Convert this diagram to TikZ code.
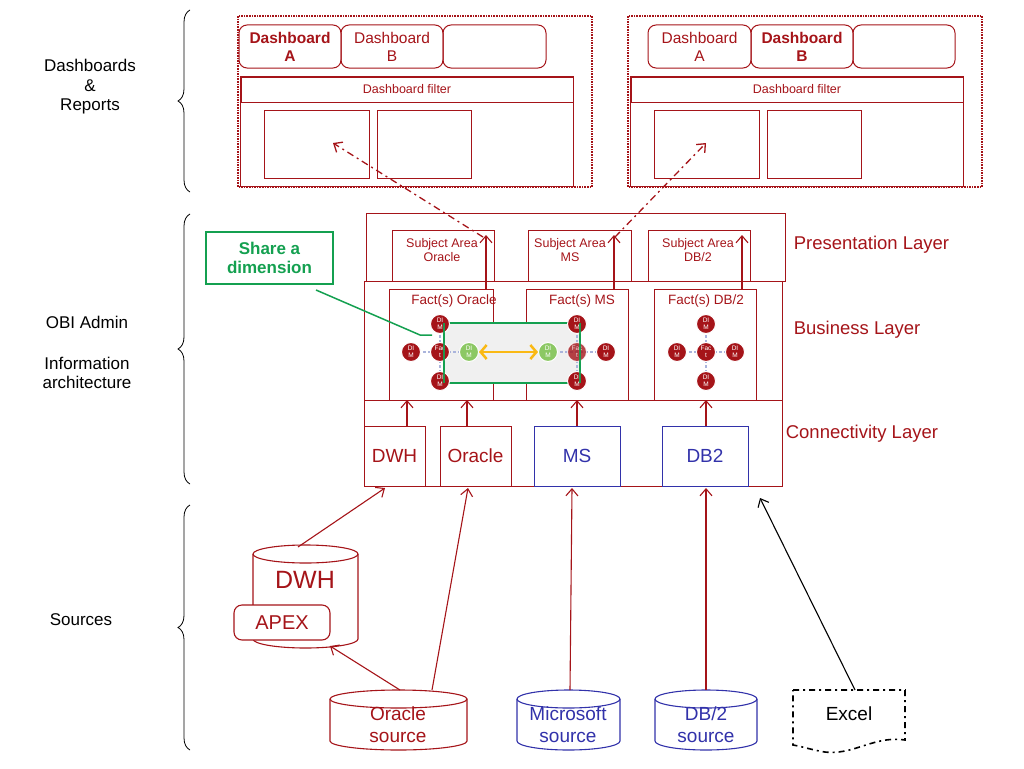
\documentclass[tikz,border=0pt]{standalone}
\usepackage{fontspec}
\setmainfont{Liberation Sans}
\usetikzlibrary{fit,arrows.meta,decorations.pathreplacing}
\definecolor{obred}{RGB}{165,20,25}
\definecolor{obblue}{RGB}{50,50,170}
\definecolor{obgreen}{RGB}{20,160,80}
\definecolor{oborange}{RGB}{250,185,20}
\definecolor{dimgreen}{RGB}{140,200,100}
\definecolor{dotblue}{RGB}{170,180,220}
\newcommand\fs[1]{\fontsize{#1pt}{1.15\dimexpr #1pt\relax}\selectfont}
% cylinder: colour, x1, x2, ytop, ybot, ry
\newcommand\mycyl[6]{%
 \draw[#1,line width=1.1pt,fill=white] (#2,#4+#6) -- (#2,#5-#6) arc[start angle=180,end angle=0,x radius={(#3-#2)/2},y radius=#6] -- (#3,#4+#6) arc[start angle=0,end angle=-180,x radius={(#3-#2)/2},y radius=#6] -- cycle;
 \draw[#1,line width=1.1pt] (#2,#4+#6) arc[start angle=180,end angle=0,x radius={(#3-#2)/2},y radius=#6];}
\tikzset{
 box/.style={draw=obred,inner sep=0pt},
 bbox/.style={draw=obblue,inner sep=0pt},
 tab/.style={box,rounded corners=8pt,line width=1pt},
 arr/.style={draw=obred,-{Straight Barb[length=7pt,width=12pt]},line width=1.1pt},
 darr/.style={arr,dash pattern=on 7pt off 4pt on 2pt off 4pt,line width=1.3pt},
 dim/.style={circle,fill=obred,draw=white,minimum size=19pt,inner sep=0pt,text=white,align=center,font=\fs{6.5}},
 gdim/.style={dim,fill=dimgreen},
 dl/.style={draw=dotblue,line width=2pt,dash pattern=on 2.5pt off 2.5pt},
 lbl/.style={align=center,font=\fs{17}},
 rt/.style={text=obred,align=center},
 bt/.style={text=obblue,align=center},
 brc/.style={decorate,decoration={brace,amplitude=12pt},line width=0.8pt}
}
\begin{document}
\begin{tikzpicture}[x=1pt,y=-1pt,line width=1pt]
\useasboundingbox (0,0) rectangle (1024,768);
% braces
\draw[brc] (190,192) -- (190,10) coordinate (b1);
\draw[brc] (190,484) -- (190,214) coordinate (b2);
\draw[brc] (190,750) -- (190,505) coordinate (b3);
\node[lbl] (ldash) at (90,87) {Dashboards\\\&\\Reports};
\node[lbl] (lobi) at (87,322) {OBI Admin};
\node[lbl] (linfo) at (87,373) {Information\\architecture};
\node[lbl] (lsrc) at (81,620) {Sources};
% dashboards
\foreach \o/\n in {0/L,390/R}{
 \draw[obred,line width=1.6pt,densely dotted] (238+\o,16) rectangle (592+\o,187);
 \node[box,fit={(240+\o,76)(573+\o,186)}] (frame\n) {};
 \node[box,fit={(241+\o,77)(573+\o,102)}] (filter\n) {};
 \node[rt,font=\fs{12.5}] at (filter\n.center) {Dashboard filter};
 \node[box,fit={(264+\o,110)(369+\o,178)}] (p1\n) {};
 \node[box,fit={(377+\o,110)(471+\o,178)}] (p2\n) {};
}
\node[tab,fit={(239,25)(341,68)}] (tA1) {};
\node[tab,fit={(341,25)(443,68)}] (tB1) {};
\node[tab,fit={(443,25)(546,68)}] (tC1) {};
\node[tab,fit={(648,25)(751,68)}] (tA2) {};
\node[tab,fit={(751,25)(853,68)}] (tB2) {};
\node[tab,fit={(853,25)(955,68)}] (tC2) {};
\node[rt,font=\fs{15.5}\bfseries] at (tA1.center) {Dashboard\\A};
\node[rt,font=\fs{15.5}] at (tB1.center) {Dashboard\\B};
\node[rt,font=\fs{15.5}] at (tA2.center) {Dashboard\\A};
\node[rt,font=\fs{15.5}\bfseries] at (tB2.center) {Dashboard\\B};
% layers
\node[box,fit={(366,213)(785,281)}] (pres) {};
\node[box,fit={(364,281)(782,400)}] (bus) {};
\node[box,fit={(364,400)(782,486)}] (conn) {};
\node[rt,font=\fs{18.5},anchor=west] (lpres) at (790,245) {Presentation Layer};
\node[rt,font=\fs{18.5},anchor=west] (lbus) at (790,330) {Business Layer};
\node[rt,font=\fs{18.5},anchor=west] (lconn) at (782,434) {Connectivity Layer};
% subject areas
\node[box,fit={(392,230)(494,281)}] (sa1) {};
\node[box,fit={(528,230)(631,281)}] (sa2) {};
\node[box,fit={(648,230)(750,281)}] (sa3) {};
\node[rt,font=\fs{12.5}] at (442,250) {Subject Area\\Oracle};
\node[rt,font=\fs{12.5}] at (570,250) {Subject Area\\MS};
\node[rt,font=\fs{12.5}] at (698,250) {Subject Area\\DB/2};
% facts
\node[box,fit={(389,289)(493,400)}] (f1) {};
\node[box,fit={(526,289)(628,400)}] (f2) {};
\node[box,fit={(654,289)(756,400)}] (f3) {};
\node[rt,font=\fs{13.5}] at (454,301) {Fact(s) Oracle};
\node[rt,font=\fs{13.5}] at (582,301) {Fact(s) MS};
\node[rt,font=\fs{13.5}] at (706,301) {Fact(s) DB/2};
% green shared box
\node[draw=obgreen,line width=1.8pt,fill=black!6,inner sep=0pt,fit={(444,323)(580,383)}] (share) {};
% stars
\foreach \n/\cx/\cy in {a/440/352,b/577/352,c/706/352}{
 \draw[dl] (\cx-22,\cy) -- (\cx+22,\cy) (\cx,\cy-22) -- (\cx,\cy+22);
}
\node[dim] (fa) at (440,352) {Fac\\t};
\node[dim] (da1) at (411,352) {DI\\M};
\node[dim] (da2) at (440,324) {DI\\M};
\node[dim] (da3) at (440,381) {DI\\M};
\node[gdim] (ga) at (469,352) {DI\\M};
\node[dim,opacity=0.8] (fb) at (577,352) {Fac\\t};
\node[dim] (db1) at (606,352) {DI\\M};
\node[dim] (db2) at (577,324) {DI\\M};
\node[dim] (db3) at (577,381) {DI\\M};
\node[gdim] (gb) at (548,352) {DI\\M};
\node[dim] (fc) at (706,352) {Fac\\t};
\node[dim] (dc1) at (677,352) {DI\\M};
\node[dim] (dc2) at (735,352) {DI\\M};
\node[dim] (dc3) at (706,324) {DI\\M};
\node[dim] (dc4) at (706,381) {DI\\M};
\draw[oborange,line width=2.5pt,{Straight Barb[length=6pt,width=14pt]}-{Straight Barb[length=6pt,width=14pt]}] (ga) -- (gb);
\draw[draw=obgreen,line width=1.8pt,opacity=0.9] (444,323) -- (444,383) (580,323) -- (580,383);
% share label
\node[draw=obgreen,line width=1.3pt,fit={(206,232)(333,284)},inner sep=0pt] (shl) {};
\node[text=obgreen,font=\fs{17}\bfseries,align=center] at (shl.center) {Share a\\dimension};
\coordinate (sh1) at (420,335);
\draw[obgreen,line width=1.5pt] (316,290) -- (sh1) -- (432,335);
% connectivity boxes
\node[box,fit={(364,426)(425,486)}] (cdwh) {};
\node[box,fit={(440,426)(511,486)}] (cora) {};
\node[bbox,fit={(534,426)(620,486)}] (cms) {};
\node[bbox,fit={(662,426)(748,486)}] (cdb) {};
\node[rt,font=\fs{19}] at (cdwh.center) {DWH};
\node[rt,font=\fs{19}] at (cora.center) {Oracle};
\node[bt,font=\fs{19}] at (cms.center) {MS};
\node[bt,font=\fs{19}] at (cdb.center) {DB2};
% arrows in admin
\draw[arr] (cdwh.north -| 407,0) -- (407,400);
\draw[arr] (cora.north -| 467,0) -- (467,400);
\draw[arr] (cms.north -| 577,0) -- (577,400);
\draw[arr] (cdb.north -| 706,0) -- (706,400);
\draw[arr] (f1.north -| 486,0) -- (486,235);
\draw[arr] (f2.north -| 614,0) -- (614,235);
\draw[arr] (f3.north -| 742,0) -- (742,235);
\draw[darr] (483,237) -- (333,143);
\draw[darr] (615,237) -- (706,143);
% sources
\mycyl{obred}{253}{358}{545}{648}{9}
\coordinate (dwhtop) at (298,547);
\coordinate (dwhbot) at (330,646);
\node[rt,font=\fs{25}] (dwh) at (305,580) {DWH};
\node[tab,fill=white,line width=1.1pt,fit={(234,605)(330,640)}] (apex) {};
\node[rt,font=\fs{20}] at (apex.center) {APEX};
\mycyl{obred}{330}{467}{690}{750}{9}
\mycyl{obblue}{517}{620}{690}{750}{9}
\mycyl{obblue}{655}{757}{690}{750}{9}
\node[rt,font=\fs{19}] (osrc) at (398,725) {Oracle\\source};
\node[bt,font=\fs{19}] (msrc) at (568,725) {Microsoft\\source};
\node[bt,font=\fs{19}] (dsrc) at (706,725) {DB/2\\source};
\coordinate (o1) at (400,690);
\coordinate (o2) at (432,690);
\coordinate (m1) at (570,690);
\coordinate (d1) at (706,690);
\draw[line width=1.6pt,dash pattern=on 6pt off 4pt on 2pt off 4pt] (793,690) -- (905,690) -- (905,740) .. controls (870,735) and (850,760) .. (815,750) .. controls (805,748) and (800,746) .. (793,745) -- cycle;
\node[font=\fs{19}] (excel) at (849,714) {Excel};
\coordinate (e1) at (855,690);
\coordinate (xe) at (760,498);
\draw[arr] (dwhtop) -- (385,488);
\draw[arr] (o1) -- (dwhbot);
\draw[arr] (o2) -- (468,488);
\draw[arr] (m1) -- (572,488);
\draw[arr] (d1) -- (706,488);
\draw[arr,draw=black] (e1) -- (xe);
\end{tikzpicture}
\end{document}
